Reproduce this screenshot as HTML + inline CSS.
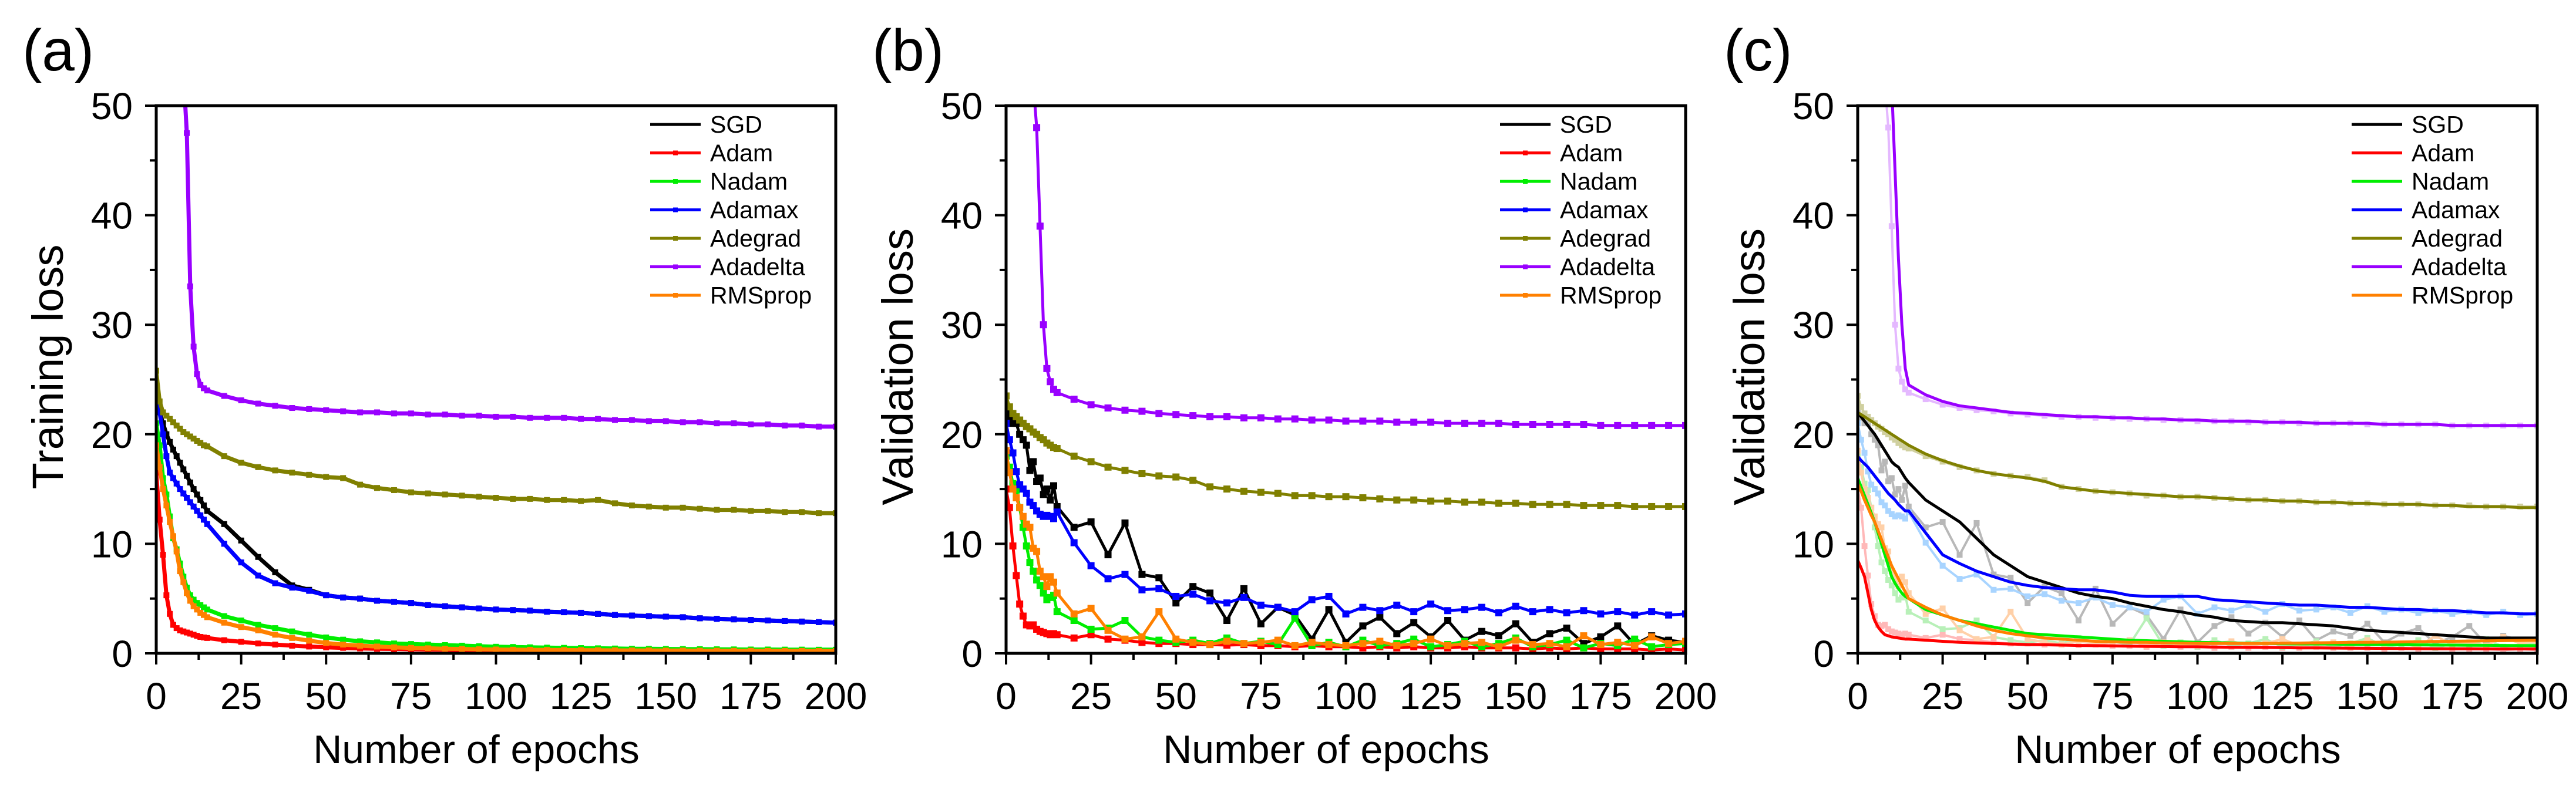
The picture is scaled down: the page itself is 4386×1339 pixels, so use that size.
<!DOCTYPE html>
<html><head><meta charset="utf-8"><style>
html,body{margin:0;padding:0;background:#fff;}
svg{display:block;font-family:"Liberation Sans",Arial,sans-serif;}
</style></head><body>
<svg id="fig" width="4386" height="1339" viewBox="0 0 4386 1339" xmlns="http://www.w3.org/2000/svg"></svg>
<script>
const epochs=[0,1,2,3,4,5,6,7,8,9,10,11,12,13,14,15,20,25,30,35,40,45,50,55,60,65,70,75,80,85,90,95,100,105,110,115,120,125,130,135,140,145,150,155,160,165,170,175,180,185,190,195,200];
const seriesNames=["SGD","Adam","Nadam","Adamax","Adegrad","Adadelta","RMSprop"];
const xTicks=[0,25,50,75,100,125,150,175,200];
const yTicks=[0,10,20,30,40,50];
// (a) training loss
const trainSGD=[24,22,21,20,19.3,18.6,18,17.4,16.8,16.2,15.6,15,14.5,14,13.5,13,11.8,10.3,8.8,7.4,6.2,5.8,5.3,5.1,5,4.8,4.7,4.6,4.4,4.3,4.2,4.1,4,3.95,3.9,3.8,3.75,3.7,3.6,3.5,3.45,3.4,3.35,3.3,3.2,3.15,3.1,3.05,3,2.95,2.9,2.85,2.8];
const trainAdam=[16.5,12.2,9,5.3,3.6,2.6,2.3,2.1,2,1.9,1.8,1.7,1.6,1.5,1.45,1.4,1.2,1.05,0.9,0.8,0.7,0.62,0.55,0.5,0.45,0.42,0.4,0.37,0.35,0.33,0.31,0.3,0.28,0.27,0.26,0.25,0.24,0.23,0.22,0.21,0.2,0.2,0.19,0.18,0.18,0.17,0.17,0.16,0.16,0.15,0.15,0.15,0.15];
const trainNadam=[21,19,16,14.5,12.5,10.5,9.5,8.2,7,6,5.3,4.9,4.6,4.4,4.2,4,3.4,3,2.6,2.3,2,1.7,1.45,1.25,1.1,1,0.9,0.85,0.8,0.75,0.7,0.65,0.6,0.58,0.55,0.52,0.5,0.48,0.46,0.44,0.42,0.41,0.4,0.39,0.38,0.37,0.36,0.35,0.35,0.34,0.34,0.33,0.33];
const trainAdamax=[24,22,20,18,16.5,16,15.5,15,14.6,14.2,13.8,13.4,13,12.6,12.2,11.8,10,8.3,7.1,6.4,6,5.7,5.3,5.1,5,4.8,4.7,4.6,4.4,4.3,4.2,4.1,4,3.95,3.9,3.8,3.75,3.7,3.6,3.5,3.45,3.4,3.35,3.3,3.2,3.15,3.1,3.05,3,2.95,2.9,2.85,2.8];
const trainAdegrad=[25.8,23,22,21.7,21.4,21.1,20.8,20.5,20.2,20,19.8,19.6,19.4,19.2,19,18.9,18,17.4,17,16.7,16.5,16.3,16.1,16,15.4,15.1,14.9,14.7,14.6,14.5,14.4,14.3,14.2,14.1,14.1,14,14,13.9,14,13.7,13.5,13.4,13.3,13.3,13.2,13.1,13.1,13,13,12.9,12.9,12.8,12.8];
const trainAdadelta=[200,150,110,90,80,72,65,58,53,47.5,33.5,28,25.5,24.5,24.2,24,23.5,23.1,22.8,22.6,22.4,22.3,22.2,22.1,22,22,21.9,21.9,21.8,21.8,21.7,21.7,21.6,21.6,21.5,21.5,21.5,21.4,21.4,21.3,21.3,21.2,21.2,21.1,21.1,21,21,20.9,20.9,20.8,20.8,20.7,20.7];
const trainRMSprop=[19,17,15,13.5,12,10.7,9.3,7.5,6.5,5.5,4.8,4.3,4,3.7,3.5,3.3,2.8,2.4,2.1,1.7,1.4,1.15,0.95,0.8,0.7,0.62,0.55,0.5,0.46,0.42,0.4,0.37,0.35,0.33,0.32,0.31,0.3,0.29,0.28,0.27,0.26,0.26,0.25,0.25,0.24,0.24,0.23,0.23,0.22,0.22,0.22,0.21,0.21];
// (b) validation loss
const valSGD=[22,21.5,21,21,20,19.5,19,16.7,17.5,15.7,16,14.5,15,14,15.3,13.4,11.5,12,9,11.9,7.2,6.9,4.6,6.1,5.5,3,5.9,2.7,4.2,3.5,1.3,4,1.0,2.5,3.3,1.8,2.8,1.5,3,1.2,2,1.6,2.7,1.0,1.8,2.3,0.9,1.5,2.5,0.8,1.6,1.2,1.0];
const valAdam=[15,13.3,9.8,7.1,4.5,3.4,2.6,2.5,2.6,2.2,2.0,1.9,1.8,1.7,1.8,1.7,1.4,1.7,1.3,1.2,1.0,0.9,0.9,0.8,0.8,0.75,0.8,0.7,0.7,0.6,0.7,0.6,0.6,0.5,0.6,0.5,0.6,0.5,0.5,0.6,0.5,0.5,0.5,0.4,0.5,0.4,0.5,0.4,0.4,0.4,0.3,0.4,0.3];
const valNadam=[18,17,15.5,14.9,13.3,11.5,9.8,8.3,7.5,6.7,6.2,5.5,4.9,5.1,5.3,3.8,3.0,2.2,2.3,3.0,1.5,1.2,1.0,1.2,0.9,1.4,0.9,1.1,0.8,3.2,0.7,1.0,0.6,1.2,0.7,0.9,1.3,0.6,0.8,1.1,0.6,0.9,1.4,0.6,0.8,1.2,0.5,0.9,0.7,1.3,0.6,0.8,0.9];
const valAdamax=[21,19.5,18.3,16.6,15.4,15,14.6,13.8,13.5,13,12.7,12.5,12.6,12.5,12.3,12.9,10.1,8,6.8,7.2,5.8,5.9,5.2,5.4,4.8,4.6,5.1,4.4,4.2,3.8,4.9,5.2,3.6,4.2,3.9,4.4,3.8,4.5,3.9,4.0,4.2,3.7,4.3,3.8,4.0,3.7,3.9,3.6,3.8,3.5,3.8,3.5,3.6];
const valAdegrad=[23.5,22.5,21.9,21.6,21.3,21,20.7,20.5,20.2,20,19.7,19.5,19.2,19,18.8,18.7,18,17.5,17,16.7,16.4,16.2,16.1,15.8,15.2,15,14.8,14.7,14.6,14.4,14.4,14.3,14.3,14.2,14.1,14.0,14.0,13.9,13.9,13.8,13.8,13.7,13.7,13.6,13.6,13.6,13.5,13.5,13.5,13.4,13.4,13.4,13.4];
const valAdadelta=[200,150,110,90,80,72,65,58,52,48,39,30,26,24.8,24.1,23.8,23.2,22.7,22.4,22.2,22.1,21.9,21.8,21.7,21.6,21.6,21.5,21.5,21.4,21.4,21.3,21.3,21.2,21.2,21.2,21.1,21.1,21.1,21.0,21.0,21.0,21.0,20.9,20.9,20.9,20.9,20.9,20.8,20.8,20.8,20.8,20.8,20.8];
const valRMSprop=[18.5,16.5,15,14.2,13.3,12.5,11.8,11.5,9.6,9.3,7.5,7.0,6.1,7,6.5,5.5,3.6,4.1,2.1,1.3,1.5,3.8,1.3,1.0,0.8,1.1,0.9,1.0,1.2,0.7,1.0,0.8,0.7,0.9,1.1,0.7,0.9,1.3,0.7,0.9,1.0,0.6,1.2,0.8,0.9,0.6,1.6,0.8,1.0,0.7,1.5,0.9,1.1];
// (c) smoothed validation loss
const smSGD=[22,21.6,21.2,20.8,20.4,20,19.5,19,18.5,18,17.5,17.2,17,16.5,16,15.6,14,13,12,10.5,9,8,7,6.5,6,5.5,5.2,5,4.6,4.3,4,3.8,3.5,3.3,3.0,2.9,2.8,2.8,2.7,2.6,2.5,2.3,2.1,2.0,1.9,1.8,1.7,1.6,1.5,1.4,1.4,1.4,1.4];
const smAdam=[8.5,7.8,7,5.5,4,3,2.4,2,1.7,1.6,1.5,1.45,1.4,1.35,1.3,1.3,1.2,1.1,1.0,0.95,0.9,0.85,0.8,0.78,0.75,0.72,0.7,0.68,0.66,0.64,0.62,0.6,0.6,0.58,0.56,0.55,0.54,0.52,0.5,0.5,0.48,0.47,0.46,0.45,0.44,0.43,0.42,0.42,0.41,0.4,0.4,0.4,0.4];
const smNadam=[16,15.2,14.4,13.6,12.8,12,11,10,9,8,7,6.4,5.9,5.5,5.2,5,4,3.5,3,2.7,2.4,2.1,1.8,1.7,1.6,1.5,1.4,1.3,1.2,1.15,1.1,1.05,1.0,0.98,0.95,0.92,0.9,0.88,0.86,0.85,0.84,0.82,0.8,0.8,0.78,0.77,0.76,0.75,0.74,0.73,0.72,0.71,0.7];
const smAdamax=[18,17.6,17.3,17,16.6,16.2,15.8,15.4,15,14.6,14.3,14,13.6,13.3,13,13,11,9,8.2,7.5,7,6.5,6.2,6,5.9,5.8,5.8,5.6,5.3,5.2,5.2,5.2,5.2,4.9,4.8,4.7,4.6,4.5,4.4,4.4,4.3,4.2,4.2,4.1,4.0,4.0,3.9,3.9,3.8,3.7,3.7,3.6,3.6];
const smAdegrad=[22,21.8,21.6,21.4,21.2,21,20.8,20.6,20.4,20.2,20,19.8,19.6,19.4,19.2,19,18.2,17.6,17.1,16.7,16.4,16.2,16,15.7,15.2,15,14.8,14.7,14.6,14.5,14.4,14.3,14.3,14.2,14.1,14.0,14.0,13.9,13.9,13.8,13.8,13.7,13.7,13.6,13.6,13.6,13.5,13.5,13.4,13.4,13.4,13.3,13.3];
const smAdadelta=[200,160,130,110,95,85,78,72,65,60,52,44,36,30,26,24.5,23.6,23,22.6,22.4,22.2,22,21.9,21.8,21.7,21.6,21.6,21.5,21.5,21.4,21.4,21.3,21.3,21.2,21.2,21.2,21.1,21.1,21.1,21.0,21.0,21.0,21.0,20.9,20.9,20.9,20.9,20.8,20.8,20.8,20.8,20.8,20.8];
const smRMSprop=[15.5,14.8,14,13.3,12.6,12,11.2,10.4,9.6,8.8,8,7.4,6.8,6.2,5.6,5,4.2,3.5,3,2.5,2.1,1.8,1.6,1.4,1.3,1.2,1.1,1.05,1.0,1.0,0.95,0.92,0.9,0.9,0.9,0.9,0.9,0.92,0.94,0.96,0.98,1.0,1.0,1.02,1.04,1.06,1.08,1.1,1.12,1.14,1.16,1.18,1.2];

const colors=["#000000","#ff0000","#00ee00","#0000ff","#808000","#9900ff","#ff8000"];
const light=["#b8b8b8","#ffb8b8","#b8f0b8","#a8d4ff","#d0d0a0","#e4b8ff","#ffd0a8"];
const NS="http://www.w3.org/2000/svg";
const svg=document.getElementById('fig');
const PW=1157,TOP=180,BOT=1113;
function mk(tag,attrs,parent){const e=document.createElementNS(NS,tag);for(const k in attrs)e.setAttribute(k,attrs[k]);(parent||svg).appendChild(e);return e;}
function makeX(left){return v=>left+v/200*PW;}
function yS(v){return BOT-v/50*(BOT-TOP);}

function series(g,xs,vals,color,w,ms,name,clip){
  const pts=epochs.map((e,i)=>xs(e).toFixed(1)+','+yS(vals[i]).toFixed(1)).join(' ');
  const pl=mk('polyline',{points:pts,fill:'none',stroke:color,'stroke-width':w,'stroke-linejoin':'round','clip-path':'url(#'+clip+')'},g);
  
  
  if(ms>0){epochs.forEach((e,i)=>{const y=yS(vals[i]);if(y<TOP-5)return;
    const r=mk('rect',{x:xs(e)-ms/2,y:y-ms/2,width:ms,height:ms,fill:color,'clip-path':'url(#'+clip+')'},g);
    
    });}
}

function panel(id,left,letter,ytitle,data,mode){
  const xs=makeX(left);
  const g=mk('g',{});
  
  
  const cp=mk('clipPath',{id:'clip-'+id},g);
  mk('rect',{x:left,y:TOP,width:PW,height:BOT-TOP},cp);
  if(mode==='c'){
    data.raw.forEach((vals,i)=>series(g,xs,vals,light[i],4,10,'raw-'+seriesNames[i].toLowerCase(),'clip-'+id));
    data.main.forEach((vals,i)=>series(g,xs,vals,colors[i],5,0,'smoothed-'+seriesNames[i].toLowerCase(),'clip-'+id));
  } else {
    data.main.forEach((vals,i)=>series(g,xs,vals,colors[i],mode==='a'?7:5,mode==='a'?10:12,seriesNames[i].toLowerCase(),'clip-'+id));
  }
  const fr=mk('rect',{x:left,y:TOP,width:PW,height:BOT-TOP,fill:'none',stroke:'#000','stroke-width':5},g);
  
  
  xTicks.forEach(t=>{const x=xs(t);
    const tk=mk('line',{x1:x,x2:x,y1:BOT,y2:BOT+19,stroke:'#000','stroke-width':4},g);
    
    
    if(t<200){const m=xs(t+12.5);const mt=mk('line',{x1:m,x2:m,y1:BOT,y2:BOT+11,stroke:'#000','stroke-width':4},g);
      
      }
    const tl=mk('text',{x:x,y:BOT+95,'font-size':64,'text-anchor':'middle',fill:'#000'},g);tl.textContent=t;
    
    
  });
  yTicks.forEach(t=>{const y=yS(t);
    const tk=mk('line',{x1:left-19,x2:left,y1:y,y2:y,stroke:'#000','stroke-width':4},g);
    
    
    if(t<50){const m=yS(t+5);const mt=mk('line',{x1:left-11,x2:left,y1:m,y2:m,stroke:'#000','stroke-width':4},g);
      
      }
    const tl=mk('text',{x:left-40,y:y+23,'font-size':64,'text-anchor':'end',fill:'#000'},g);tl.textContent=t;
    
    
  });
  const xt=mk('text',{x:left+545,y:1300,'font-size':68,'text-anchor':'middle',fill:'#000'},g);xt.textContent='Number of epochs';
  
  
  const yt=mk('text',{x:0,y:0,'font-size':74,'text-anchor':'middle',fill:'#000',transform:'translate('+(left-159)+',625) rotate(-90)'},g);yt.textContent=ytitle;
  
  
  const pl=mk('text',{x:left-228,y:120,'font-size':100,fill:'#000'},g);pl.textContent='('+letter+')';
  
  
  const lg=mk('g',{},g);
  
  
  seriesNames.forEach((n,i)=>{const y=212+i*48.5;const lx=left+841;
    const ln=mk('line',{x1:lx,x2:lx+86,y1:y,y2:y,stroke:colors[i],'stroke-width':5},lg);
    
    
    if(mode!=='c'&&i>0){const r=mk('rect',{x:lx+39,y:y-4,width:8,height:8,fill:colors[i]},lg);
      
      }
    const tx=mk('text',{x:lx+102,y:y+14,'font-size':41,fill:'#000'},lg);tx.textContent=n;
    
    
  });
}
const trainAll=[trainSGD,trainAdam,trainNadam,trainAdamax,trainAdegrad,trainAdadelta,trainRMSprop];
const valAll=[valSGD,valAdam,valNadam,valAdamax,valAdegrad,valAdadelta,valRMSprop];
const smAll=[smSGD,smAdam,smNadam,smAdamax,smAdegrad,smAdadelta,smRMSprop];
panel('a',266,'a','Training loss',{main:trainAll},'a');
panel('b',1713,'b','Validation loss',{main:valAll},'b');
panel('c',3163,'c','Validation loss',{main:smAll,raw:valAll},'c');
</script>
</body></html>
